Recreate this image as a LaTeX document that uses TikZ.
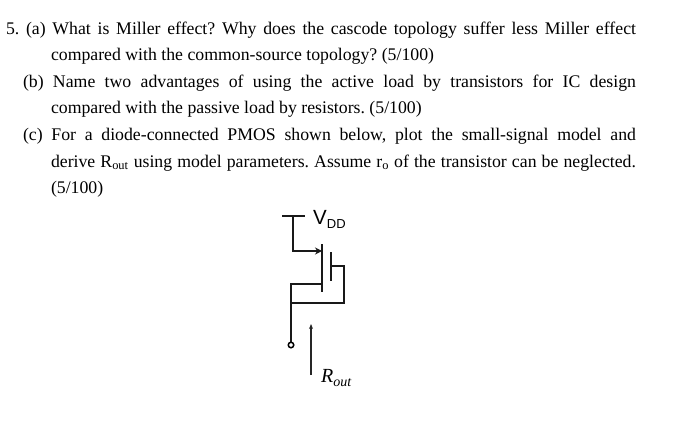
\documentclass[tikz,border=0pt]{standalone}
\usepackage{fontspec}
\setmainfont{Liberation Serif}
\newfontfamily\vddfont{Liberation Sans}
\usetikzlibrary{arrows.meta}
\newcommand{\jl}[1]{\makebox[#1pt][s]}
\frenchspacing
\tikzset{
  txt/.style={anchor=base west,inner sep=0pt,outer sep=0pt,font=\fontsize{17.75}{20}\selectfont\frenchspacing},
  wire/.style={line width=1.9pt,black!90},
  thin wire/.style={line width=1.1pt,black!85},
}
\begin{document}
\begin{tikzpicture}[x=1pt,y=-1pt]
\useasboundingbox (0,0) rectangle (700,423);
\node[txt] (l1) at (6,34.5) {\jl{630}{5. (a) What is Miller effect? Why does the cascode topology suffer less Miller effect}};
\node[txt] (l2) at (51,60.5) {compared with the common-source topology? (5/100)};
\node[txt] (l3) at (23,87) {\jl{613}{(b) Name two advantages of using the active load by transistors for IC design}};
\node[txt] (l4) at (51,113.5) {compared with the passive load by resistors. (5/100)};
\node[txt] (l5) at (23,140) {\jl{613}{(c) For a diode-connected PMOS shown below, plot the small-signal model and}};
\node[txt] (l6) at (51,167) {\jl{585}{derive R\textsubscript{out} using model parameters. Assume r\textsubscript{o} of the transistor can be neglected.}};
\node[txt] (l7) at (51,193.5) {(5/100)};
% transistor
\coordinate (vl) at (282,216);
\coordinate (vr) at (305,216);
\coordinate (vm) at (293,216);
\coordinate (sb) at (293,251);
\coordinate (st) at (322,251);
\coordinate (ct) at (322,244);
\coordinate (cb) at (322,292);
\coordinate (gt) at (331,252);
\coordinate (gb) at (331,281);
\coordinate (gl) at (331,266);
\coordinate (gr) at (344,266);
\coordinate (fb) at (344,303);
\coordinate (fl) at (291,303);
\coordinate (dr) at (322,284);
\coordinate (dl) at (291,284);
\coordinate (oe) at (291,343);
\draw[wire] (vl) -- (vr);
\draw[wire,-{Stealth[length=7pt,width=7pt]}] (vm) -- (sb) -- (st);
\draw[wire] (ct) -- (cb);
\draw[wire] (gt) -- (gb);
\draw[wire] (gl) -- (gr) -- (fb) -- (fl);
\draw[wire] (dr) -- (dl) -- (oe);
\node[draw,circle,line width=1.5pt,inner sep=0pt,minimum size=5.5pt] (out) at (291,345) {};
\node[anchor=base west,inner sep=0pt] (vdd) at (313,224) {\vddfont\fontsize{20.5}{22}\selectfont V\raisebox{-4pt}{\fontsize{13}{15}\selectfont DD}};
\coordinate (a0) at (311,375);
\coordinate (a1) at (311,324);
\draw[thin wire,-{Stealth[length=5pt,width=4pt]}] (a0) -- (a1);
\node[anchor=base west,inner sep=0pt] (rout) at (321,382) {\fontsize{20}{22}\selectfont\itshape R\raisebox{-4pt}{\fontsize{14}{15}\selectfont out}};
\end{tikzpicture}
\end{document}
